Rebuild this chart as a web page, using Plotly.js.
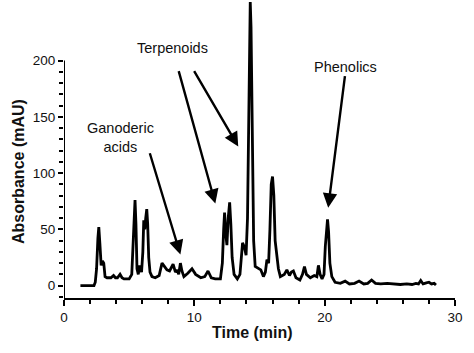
<!DOCTYPE html>
<html>
<head>
<meta charset="utf-8">
<script src="https://cdn.plot.ly/plotly-3.0.1.min.js"></script>
<style>html,body{margin:0;padding:0;background:#fff;}#chart{width:474px;height:353px;}</style>
</head>
<body>
<div id="chart"></div>
<script>
// Retention time (min)
const timeMin = [
  1.26, 2.3, 2.4, 2.5, 2.6, 2.67, 2.75, 2.85, 2.95, 3.05, 3.15, 3.3, 3.6, 3.8, 3.95, 4.1, 4.3, 4.45, 4.6, 5.0,
  5.2, 5.3, 5.38, 5.45, 5.52, 5.6, 5.7, 5.8, 5.95, 6.05, 6.12, 6.2, 6.27, 6.35, 6.42, 6.5, 6.6, 6.75, 7.0, 7.3,
  7.52, 7.7, 7.9, 8.1, 8.37, 8.55, 8.67, 8.8, 8.93, 9.05, 9.2, 9.5, 9.82, 10.1, 10.5, 10.8, 11.05, 11.3, 11.6, 12.0,
  12.15, 12.25, 12.32, 12.42, 12.5, 12.6, 12.71, 12.8, 12.9, 13.05, 13.3, 13.5, 13.62, 13.7, 13.85, 13.97, 14.08, 14.18, 14.25, 14.29,
  14.35, 14.45, 14.55, 14.67, 14.9, 15.1, 15.3, 15.45, 15.57, 15.7, 15.8, 15.9, 16.0, 16.1, 16.2, 16.3, 16.45, 16.6, 16.75, 16.9,
  17.1, 17.3, 17.45, 17.6, 17.8, 18.1, 18.3, 18.45, 18.6, 18.9, 19.2, 19.4, 19.52, 19.65, 19.8, 19.95, 20.05, 20.15, 20.22, 20.3,
  20.4, 20.55, 20.8, 21.2, 21.57, 21.9, 22.3, 22.64, 23.0, 23.3, 23.6, 23.9, 24.3, 24.8, 25.3, 25.8, 26.3, 26.7, 27.0, 27.2,
  27.37, 27.55, 27.8, 28.0, 28.2, 28.4, 28.54
];
// Absorbance (mAU)
const absorbance = [
  0, 0, 3, 15, 42, 52, 38, 18, 22, 20, 8, 7, 7, 9, 7, 7, 10, 7, 6, 6,
  10, 35, 65, 76, 55, 15, 10, 18, 12, 30, 58, 50, 60, 68, 55, 25, 12, 8, 7, 9,
  20, 17, 14, 13, 19, 12, 14, 10, 20, 13, 8, 11, 15, 10, 7, 8, 13, 7, 6, 6,
  20, 50, 65, 45, 36, 60, 74, 55, 25, 10, 6, 10, 30, 38, 34, 27, 60, 180, 245, 252,
  230, 120, 40, 17, 15, 14, 8, 12, 23, 20, 50, 90, 97, 80, 40, 30, 15, 8, 9, 10,
  14, 9, 12, 13, 7, 5, 10, 17, 10, 7, 9, 8, 18, 10, 6, 10, 35, 55, 59, 48,
  20, 8, 3, 2, 4, 1.5, 2, 4, 1.5, 2, 5, 2, 1.5, 2, 1.5, 1, 1.5, 1, 2, 1.5,
  4.5, 1.5, 2.5, 3, 1.5, 2, 0.5
];
const yTickVals = [0, 50, 100, 150, 200];
const yMinorVals = [-10, 10, 20, 30, 40, 60, 70, 80, 90, 110, 120, 130, 140, 160, 170, 180, 190];
const xTickVals = [0, 10, 20, 30];
const peakLabels = ["Ganoderic<br>acids", "Terpenoids", "Phenolics"];

const FONT = "Liberation Sans, Arial, sans-serif";

const trace = {
  x: timeMin, y: absorbance, type: "scatter", mode: "lines",
  line: {color: "#000", width: 2.8}, hoverinfo: "skip"
};

function arrow(x, y, ax, ay) {
  return {x: x, y: y, ax: ax, ay: ay, xref: "x", yref: "y", axref: "x", ayref: "y",
    text: "", showarrow: true, arrowhead: 2, arrowsize: 1.2, arrowwidth: 2.4, arrowcolor: "#000", standoff: 0};
}
function label(txt, x, y) {
  return {x: x, y: y, xref: "x", yref: "y", text: txt, showarrow: false,
    font: {family: FONT, size: 14.5, color: "#111"}, xanchor: "center", yanchor: "middle"};
}

const layout = {
  width: 474, height: 353,
  margin: {l: 64, r: 19, t: 2, b: 55},
  paper_bgcolor: "#fff", plot_bgcolor: "#fff",
  showlegend: false,
  xaxis: {
    range: [0, 30], showgrid: false, zeroline: false,
    showline: true, linecolor: "#000", linewidth: 2,
    ticks: "outside", ticklen: 6, tickwidth: 2, tickcolor: "#000",
    tickmode: "array", tickvals: xTickVals,
    minor: {tickmode: "linear", tick0: 0, dtick: 2, ticks: "outside", ticklen: 4, tickwidth: 2, tickcolor: "#000"},
    tickfont: {family: FONT, size: 13.5, color: "#111"}
  },
  yaxis: {
    range: [-11, 252.1], showgrid: false, zeroline: false,
    showline: false,
    ticks: "outside", ticklen: 5, tickwidth: 2, tickcolor: "#000",
    tickmode: "array", tickvals: yTickVals,
    minor: {tickmode: "array", tickvals: yMinorVals, ticks: "outside", ticklen: 4, tickwidth: 2, tickcolor: "#000"},
    tickfont: {family: FONT, size: 13.5, color: "#111"}
  },
  shapes: [
    {type: "line", xref: "x", yref: "y", x0: 0, x1: 0, y0: -11, y1: 200, line: {color: "#000", width: 2}}
  ],
  annotations: [
    arrow(8.93, 27.6, 6.55, 119),
    arrow(11.61, 72.9, 8.77, 192),
    arrow(13.37, 123.6, 9.92, 192),
    arrow(20.27, 69.3, 21.57, 187.6),
    label(peakLabels[0], 4.33, 131.5),
    label(peakLabels[1], 8.31, 211.6),
    label(peakLabels[2], 21.57, 194.7),
    {text: "Absorbance (mAU)", xref: "paper", yref: "y", x: -0.115, y: 101, textangle: -90,
      showarrow: false, xanchor: "center", yanchor: "middle",
      font: {family: FONT, size: 16, color: "#111", weight: "bold"}},
    {text: "Time (min)", xref: "x", yref: "paper", x: 14.44, y: -0.118,
      showarrow: false, xanchor: "center", yanchor: "middle",
      font: {family: FONT, size: 16, color: "#111", weight: "bold"}}
  ]
};

Plotly.newPlot("chart", [trace], layout, {displayModeBar: false, staticPlot: true});
</script>
</body>
</html>
